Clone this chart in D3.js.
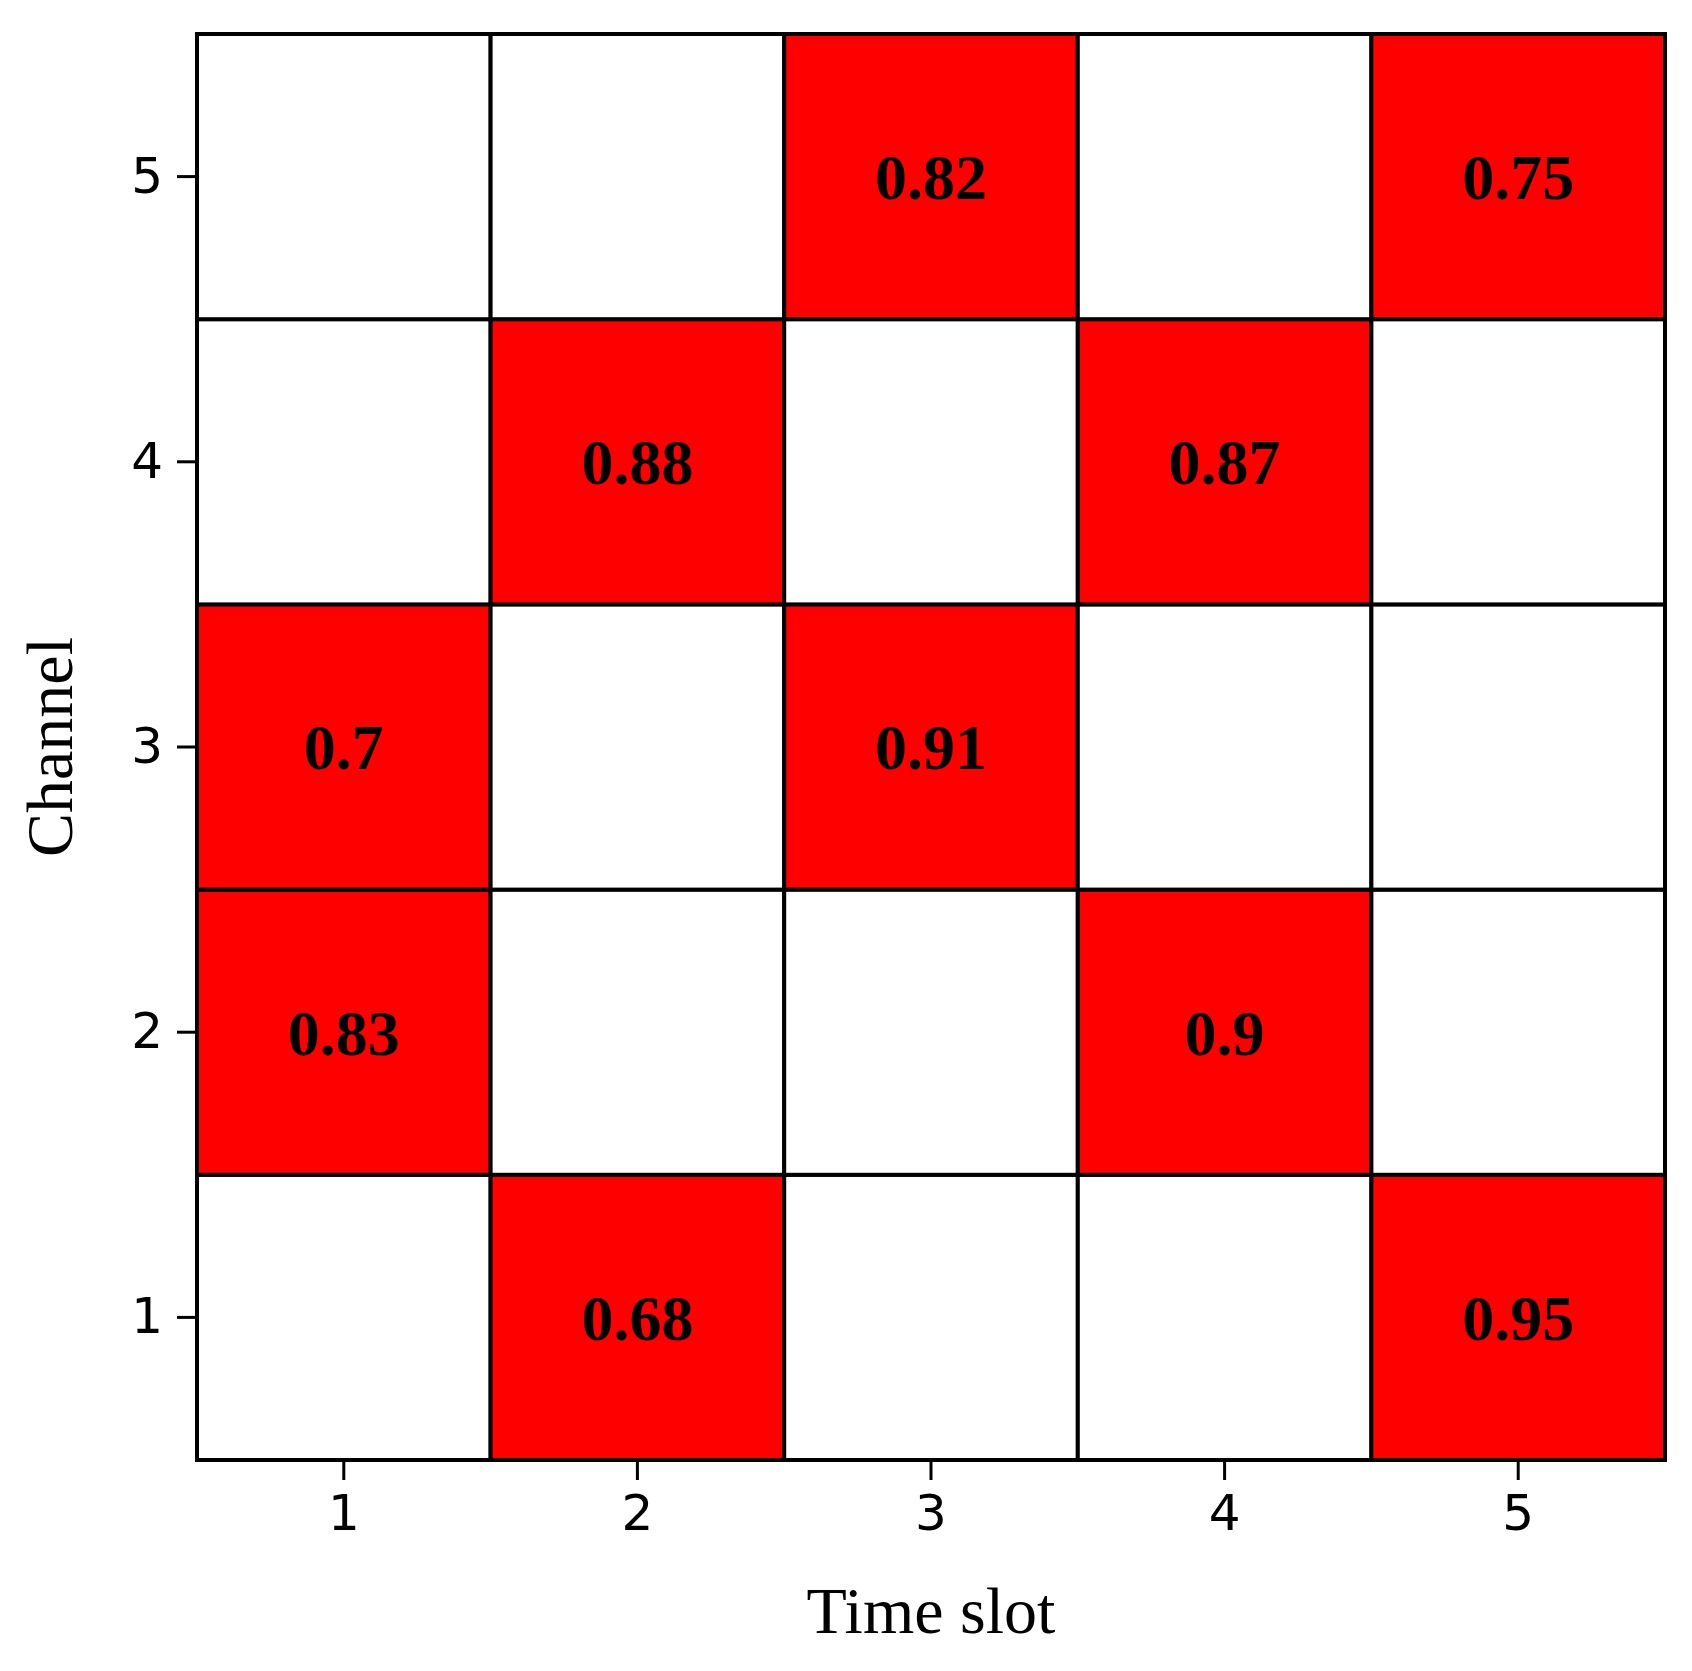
<!DOCTYPE html><html><head><meta charset="utf-8"><script src="https://cdn.jsdelivr.net/npm/d3@7"></script>
<style>body{margin:0;background:#fff}</style></head><body><svg id="c" width="1692" height="1671"></svg>
<script>
const slots=[1,2,3,4,5];
const channels=[1,2,3,4,5];
const cellSlot=[3,5,2,4,1,3,1,4,2,5];
const cellChannel=[5,5,4,4,3,3,2,2,1,1];
const cellValue=[0.82,0.75,0.88,0.87,0.7,0.91,0.83,0.9,0.68,0.95];
const svg=d3.select("#c");
const L=197,R=1665,T=34,B=1460;
const x=d3.scaleBand().domain(slots).range([L,R]);
const y=d3.scaleBand().domain(channels.slice().reverse()).range([T,B]);
const grid=[];
slots.forEach(s=>channels.forEach(c=>grid.push({s,c})));
const lookup=new Map(cellSlot.map((s,i)=>[s+"_"+cellChannel[i],cellValue[i]]));
svg.selectAll("rect.cell").data(grid).join("rect").attr("x",d=>x(d.s)).attr("y",d=>y(d.c))
 .attr("width",x.bandwidth()).attr("height",y.bandwidth())
 .attr("fill",d=>lookup.has(d.s+"_"+d.c)?"#ff0000":"#fff").attr("stroke","#000").attr("stroke-width",4);
svg.selectAll("text.v").data(cellValue).join("text").attr("x",(d,i)=>x(cellSlot[i])+x.bandwidth()/2)
 .attr("y",(d,i)=>y(cellChannel[i])+y.bandwidth()/2).attr("dy","0.35em").attr("text-anchor","middle")
 .attr("font-family","Liberation Serif").attr("font-weight","bold").attr("font-size",64).text(d=>String(d));
svg.append("rect").attr("x",L).attr("y",T).attr("width",R-L).attr("height",B-T).attr("fill","none").attr("stroke","#000").attr("stroke-width",4);
const xa=svg.append("g").attr("transform",`translate(0,${B})`).call(d3.axisBottom(x).tickSize(20).tickPadding(14));
const ya=svg.append("g").attr("transform",`translate(${L},0)`).call(d3.axisLeft(y).tickSize(20).tickPadding(14));
[xa,ya].forEach(a=>{a.select(".domain").remove();a.selectAll("line").attr("stroke-width",3);
 a.selectAll("text").attr("font-family","DejaVu Sans").attr("font-size",50).attr("fill","#000");});
svg.append("text").attr("x",(L+R)/2).attr("y",1633).attr("text-anchor","middle").attr("font-family","Liberation Serif").attr("font-size",66).text("Time slot");
svg.append("text").attr("transform",`translate(72,${(T+B)/2}) rotate(-90)`).attr("text-anchor","middle").attr("font-family","Liberation Serif").attr("font-size",66).text("Channel");
</script></body></html>
